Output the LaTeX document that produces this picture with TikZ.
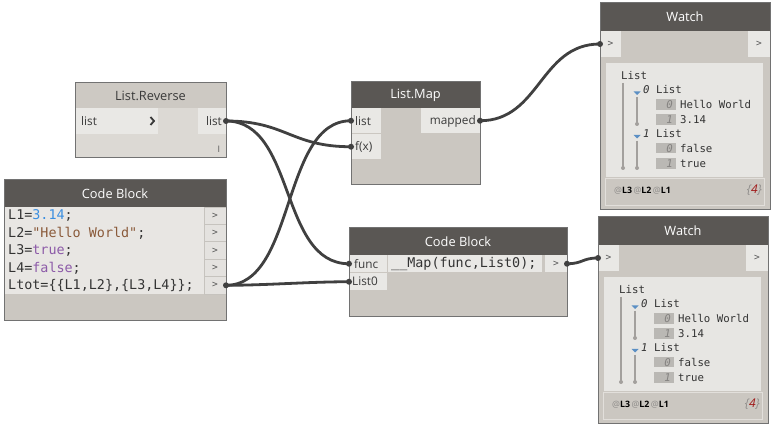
\documentclass[tikz,border=0pt]{standalone}
\usepackage{fontspec}
\setmainfont{Open Sans}
\newfontfamily\codefont{DejaVu Sans Mono}
\definecolor{hdr}{HTML}{5A5754}
\definecolor{bodyc}{HTML}{CBC7C1}
\definecolor{portc}{HTML}{E9E8E5}
\definecolor{codebg}{HTML}{E8E6E3}
\definecolor{colc}{HTML}{E4E2DF}
\definecolor{sepc}{HTML}{C6C3BE}
\definecolor{wirec}{HTML}{404040}
\definecolor{edgec}{HTML}{727272}
\definecolor{numc}{HTML}{3A8EE0}
\definecolor{strc}{HTML}{8A5A3A}
\definecolor{boolc}{HTML}{8C5AA8}
\definecolor{txt}{HTML}{3A3A3A}
\definecolor{codetxt}{HTML}{333333}
\definecolor{treec}{HTML}{A3A09D}
\definecolor{idxbg}{HTML}{BAB8B4}
\definecolor{idxtxt}{HTML}{858381}
\definecolor{tric}{HTML}{5B8FC4}
\definecolor{lrhdr}{HTML}{CDC9C3}
\definecolor{lrbody}{HTML}{DCD9D4}
\definecolor{areac}{HTML}{E7E6E3}
\definecolor{barline}{HTML}{E2DFDB}
\definecolor{atc}{HTML}{8E8C8A}
\definecolor{redc}{HTML}{A01818}
\definecolor{gtc}{HTML}{555555}
\tikzset{
  blk/.style={anchor=north west, inner sep=0pt, outer sep=0pt},
  nbody/.style={blk, fill=bodyc},
  hdrbox/.style={blk, fill=hdr},
  portbox/.style={blk, fill=portc},
  outline/.style={draw=edgec, line width=1pt},
  ttl/.style={inner sep=0pt, text=white, font=\fontsize{12.8}{15}\selectfont},
  plab/.style={inner sep=0pt, text=txt, font=\fontsize{11.8}{14}\selectfont},
  codet/.style={inner sep=0pt, text=codetxt, font=\codefont\fontsize{13.4}{16}\selectfont},
  wtxt/.style={inner sep=0pt, text=codetxt, font=\codefont\fontsize{10.7}{13}\selectfont},
  idxt/.style={inner sep=0pt, text=idxtxt, font=\codefont\itshape\fontsize{10.7}{13}\selectfont},
  gtxt/.style={inner sep=0pt, text=gtc, font=\codefont\fontsize{9.5}{11}\selectfont},
  treel/.style={draw=treec, line width=1.1pt},
  wirest/.style={draw=wirec, line width=2.8pt},
  plug/.style={fill=wirec},
}
\newcommand\rbox[6]{\node[#6, minimum width=#4pt, minimum height=#5pt] (#1) at (#2,#3) {};}
\newcommand\watchnode[3]{%
\begin{scope}[shift={(#2,#3)}]
  \rbox{#1}{0}{0}{170}{207}{nbody}
  \rbox{#1h}{0}{0}{170}{28}{hdrbox}
  \node[ttl] (#1t) at (#1h.center) {Watch};
  \rbox{#1in}{0}{28}{21}{26}{portbox}
  \node[gtxt] (#1ing) at (#1in.center) {>};
  \rbox{#1out}{148}{28}{22}{26}{portbox}
  \node[gtxt] (#1outg) at (#1out.center) {>};
  \rbox{#1area}{6}{60}{157}{114}{blk, fill=areac}
  \rbox{#1bar}{5}{175}{159}{27}{blk, fill=bodyc, draw=barline, line width=0.8pt}
  \node[wtxt, anchor=west] (#1l) at (21,73) {List};
  \draw[treel] (23,80) -- (23,165);
  \fill[treec] (23,165) circle (2pt);
  \fill[tric] (33.5,88.5) -- (40.5,88.5) -- (37,92) -- cycle;
  \node[wtxt, anchor=west] (#1l0) at (43,87) {{\itshape 0} List};
  \draw[treel] (37,94) -- (37,121);
  \fill[treec] (37,121) circle (2pt);
  \rbox{#1a}{56}{96}{20}{11}{blk, fill=idxbg}
  \node[idxt, anchor=east] (#1at) at ([xshift=-3pt]#1a.east) {0};
  \node[wtxt, anchor=west] (#1av) at (80,101.5) {Hello World};
  \rbox{#1b}{56}{111}{20}{11}{blk, fill=idxbg}
  \node[idxt, anchor=east] (#1bt) at ([xshift=-3pt]#1b.east) {1};
  \node[wtxt, anchor=west] (#1bv) at (80,116.5) {3.14};
  \fill[tric] (33.5,132) -- (40.5,132) -- (37,135.5) -- cycle;
  \node[wtxt, anchor=west] (#1l1) at (43,131) {{\itshape 1} List};
  \draw[treel] (37,138) -- (37,165);
  \fill[treec] (37,165) circle (2pt);
  \rbox{#1c}{56}{140}{20}{10.5}{blk, fill=idxbg}
  \node[idxt, anchor=east] (#1ct) at ([xshift=-3pt]#1c.east) {0};
  \node[wtxt, anchor=west] (#1cv) at (80,145) {false};
  \rbox{#1d}{56}{155}{20}{11}{blk, fill=idxbg}
  \node[idxt, anchor=east] (#1dt) at ([xshift=-3pt]#1d.east) {1};
  \node[wtxt, anchor=west] (#1dv) at (80,160.5) {true};
  \node[inner sep=0pt, anchor=west, font=\fontsize{8.8}{10}\selectfont] (#1tags) at (14,188)
    {\textcolor{atc}{@}\textbf{L3}\,\textcolor{atc}{@}\textbf{L2}\,\textcolor{atc}{@}\textbf{L1}};
  \node[inner sep=0pt, anchor=east, font=\fontsize{12}{13}\selectfont\itshape] (#1cnt) at (162,187)
    {\textcolor{atc}{\{}\textcolor{redc}{4}\textcolor{atc}{\}}};
  \draw[outline] (#1.north west) rectangle (#1.south east);
\end{scope}}
\begin{document}
\begin{tikzpicture}[x=1pt,y=-1pt]
\useasboundingbox (0,0) rectangle (772,430);
\fill[white] (0,0) rectangle (772,430);

% ---------- List.Reverse ----------
\rbox{lr}{75}{83}{151}{75}{blk, fill=lrbody}
\rbox{lrh}{75}{83}{151}{25}{blk, fill=lrhdr}
\node[ttl, text=txt] (lrt) at (lrh.center) {List.Reverse};
\rbox{lri}{75}{108}{83}{26}{blk, fill=portc}
\node[plab, anchor=west] (lril) at (81,121) {list};
\draw[line width=1.8pt, draw=txt] (150.5,117) -- (154,121) -- (150.5,125);
\rbox{lro}{198}{108}{28}{26}{blk, fill=portc}
\node[plab, anchor=east] (lrol) at (222,121) {list};
\node[inner sep=0pt, text=gtc, font=\fontsize{9}{10}\selectfont] (lrlace) at (219,149) {I};
\draw[outline] (lr.north west) rectangle (lr.south east);

% ---------- Code Block (left) ----------
\rbox{cbl}{4}{180}{222}{141}{nbody}
\rbox{cblh}{4}{180}{222}{27}{hdrbox}
\node[ttl] (cblt) at (cblh.center) {Code Block};
\rbox{cblcode}{4}{207}{200}{87}{blk, fill=codebg}
\foreach \i in {0,...,4}{
  \node[blk, fill=colc, draw=sepc, line width=0.6pt, minimum width=22pt, minimum height=17.4pt] (cblo\i) at (204,{207+17.4*\i}) {};
  \node[gtxt] (cblg\i) at (cblo\i.center) {>};
}
\node[codet, anchor=west] (cl1) at (8,215.7) {L1=\textcolor{numc}{3.14};};
\node[codet, anchor=west] (cl2) at (8,233.1) {L2=\textcolor{strc}{"Hello World"};};
\node[codet, anchor=west] (cl3) at (8,250.5) {L3=\textcolor{boolc}{true};};
\node[codet, anchor=west] (cl4) at (8,267.9) {L4=\textcolor{boolc}{false};};
\node[codet, anchor=west] (cl5) at (8,285.3) {Ltot=\{\{L1,L2\},\{L3,L4\}\};};
\draw[outline] (cbl.north west) rectangle (cbl.south east);

% ---------- List.Map ----------
\rbox{lm}{351}{82}{129}{103}{nbody}
\rbox{lmh}{351}{82}{129}{26}{hdrbox}
\node[ttl] (lmt) at (lmh.center) {List.Map};
\rbox{lmlist}{351}{108}{30}{25.5}{portbox}
\node[plab, anchor=west] (lmlistl) at (355,121) {list};
\rbox{lmfx}{351}{134}{30}{25.5}{portbox}
\node[plab, anchor=west] (lmfxl) at (355,147) {f(x)};
\rbox{lmmap}{421}{108}{59}{25.5}{portbox}
\node[plab, anchor=east] (lmmapl) at (476,121) {mapped};
\draw[outline] (lm.north west) rectangle (lm.south east);

% ---------- Code Block (right) ----------
\rbox{cbr}{349}{228}{218}{89}{nbody}
\rbox{cbrh}{349}{228}{218}{27}{hdrbox}
\node[ttl] (cbrt) at (cbrh.center) {Code Block};
\rbox{cbrfunc}{349}{255}{38}{17.5}{portbox}
\node[plab, anchor=west] (cbrfuncl) at (354,264) {func};
\rbox{cbrlist}{349}{273}{38}{17.5}{portbox}
\node[plab, anchor=west] (cbrlistl) at (352,281.5) {List0};
\rbox{cbrcode}{388}{255}{154}{17.5}{blk, fill=portc}
\node[codet, anchor=west] (cbrcodel) at (391,264) {\_\_Map(func,List0);};
\rbox{cbrout}{545}{255}{22}{17.5}{portbox}
\node[gtxt] (cbrg) at (cbrout.center) {>};
\draw[outline] (cbr.north west) rectangle (cbr.south east);

% ---------- Watch nodes ----------
\watchnode{wa}{600}{3}
\watchnode{wb}{598}{217}

% ---------- wires ----------
\draw[wirest] (lro.east) .. controls +(60,0) and +(-60,0) .. (lmfx.west);
\draw[wirest] (lro.east) .. controls +(70,0) and +(-70,0) .. (cbrfunc.west);
\draw[wirest] (cblo4.east) .. controls +(70,0) and +(-70,0) .. (lmlist.west);
\draw[wirest] (cblo4.east) .. controls +(40,0) and +(-40,0) .. (cbrlist.west);
\draw[wirest] (lmmap.east) .. controls +(60,0) and +(-60,0) .. (wain.west);
\draw[wirest] (cbrout.east) .. controls +(16,0) and +(-16,0) .. (wbin.west);
\foreach \p in {lro.east, cblo4.east, lmmap.east, cbrout.east, lmfx.west, lmlist.west, cbrfunc.west, cbrlist.west, wain.west, wbin.west}{
  \fill[plug] (\p) circle (3pt);
}
\end{tikzpicture}
\end{document}
